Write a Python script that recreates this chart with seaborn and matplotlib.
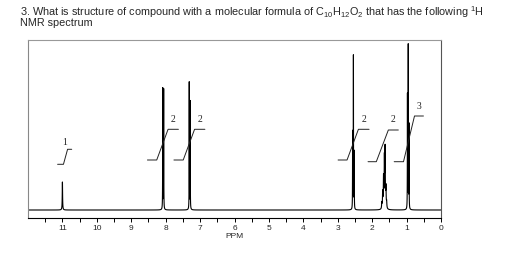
import numpy as np
import pandas as pd
import matplotlib
matplotlib.use("Agg")
import matplotlib.pyplot as plt
import seaborn as sns

# ---- data ----
# peak list: chemical shift (ppm) and intensity (arbitrary units)
peak_ppm = [11.00,
            8.085, 8.058,
            7.315, 7.288,
            2.568, 2.545, 2.522,
            1.720, 1.695, 1.670, 1.645, 1.625, 1.600, 1.580,
            0.975, 0.952, 0.929]
peak_height = [28,
               121, 120,
               127, 108,
               77, 153, 57,
               6, 16, 30, 48, 58, 20, 6,
               114, 163, 84]
peak_width = [0.006,
              0.003, 0.003,
              0.003, 0.003,
              0.003, 0.003, 0.003,
              0.007, 0.007, 0.007, 0.007, 0.007, 0.007, 0.007,
              0.003, 0.003, 0.003]

# integral traces: flat start, ramp start, ramp end, flat end (ppm), low / high level
int_start = [11.14, 8.53, 7.76, 2.99, 2.12, 1.36]
int_ramp0 = [10.97, 8.26, 7.49, 2.73, 1.88, 1.09]
int_ramp1 = [10.85, 7.93, 7.16, 2.40, 1.53, 0.77]
int_end = [10.73, 7.63, 6.86, 2.09, 1.24, 0.51]
int_low = [45.7, 50.0, 50.0, 50.0, 48.3, 48.3]
int_high = [60.7, 80.7, 80.7, 80.7, 80.0, 94.0]
int_label = ["1", "2", "2", "2", "2", "3"]
int_label_ppm = [10.95, 7.78, 6.99, 2.23, 1.40, 0.64]
int_label_y = [67.7, 90.0, 90.0, 90.0, 90.0, 103.3]

xticks_major = [11, 10, 9, 8, 7, 6, 5, 4, 3, 2, 1, 0]
xtick_labels = ["11", "10", "9", "8", "7", "6", "5", "4", "3", "2", "1", "0"]

title_line1 = "3. What is structure of compound with a molecular formula of C$_{10}$H$_{12}$O$_{2}$ that has the following $^{1}$H"
title_line2 = "NMR spectrum"

# ---- build spectrum from peak list (Lorentzian lines) ----
ppm = np.linspace(12.0, 0.0, 48001)
intensity = np.zeros_like(ppm)
for c, h, w in zip(peak_ppm, peak_height, peak_width):
    intensity += h * w**2 / ((ppm - c)**2 + w**2)
spec = pd.DataFrame({"ppm": ppm, "intensity": intensity})

sns.set_style("white")
plt.rcParams["font.family"] = ["Liberation Sans", "DejaVu Sans"]
plt.rcParams["mathtext.fontset"] = "custom"
plt.rcParams["mathtext.rm"] = "Liberation Sans"
plt.rcParams["mathtext.it"] = "Liberation Sans:italic"
plt.rcParams["mathtext.bf"] = "Liberation Sans:bold"
plt.rcParams["path.simplify"] = False

fig = plt.figure(figsize=(5.11, 2.62), dpi=100)
fig.patch.set_facecolor("white")
ax = fig.add_axes([28/511, 1-218/262, (441-28)/511, (218-40)/262])

sns.lineplot(data=spec, x="ppm", y="intensity", ax=ax, color="black",
             linewidth=0.8, sort=False, estimator=None)

for s, r0, r1, e, lo, hi, lab, lx, ly in zip(int_start, int_ramp0, int_ramp1, int_end,
                                              int_low, int_high, int_label,
                                              int_label_ppm, int_label_y):
    sns.lineplot(x=[s, r0, r1, e], y=[lo, lo, hi, hi], ax=ax, color="#222222",
                 linewidth=0.7, sort=False, estimator=None)
    ax.text(lx, ly, lab, ha="center", va="center",
            fontsize=7, family="Liberation Serif", color="#222222")

ax.set_xlim(12, 0)
ax.set_ylim(-8, 170)
ax.set_xticks(xticks_major)
ax.set_xticklabels(xtick_labels)
ax.set_xticks(np.arange(11.5, 0, -1.0), minor=True)
ax.set_yticks([])
ax.tick_params(axis="x", which="both", direction="out", length=3, width=0.7,
               color="black", labelsize=6, pad=2, bottom=True)
ax.set_xlabel("PPM", fontsize=6, labelpad=1)
ax.set_ylabel("")

for side in ["top", "left", "right", "bottom"]:
    ax.spines[side].set_visible(True)
ax.spines["top"].set_color("#999999")
ax.spines["left"].set_color("#888888")
ax.spines["right"].set_color("#555555")
ax.spines["bottom"].set_color("black")
for sp in ax.spines.values():
    sp.set_linewidth(0.8)

fig.text(20.5/511, 1-16/262, title_line1, fontsize=7.8, ha="left", va="baseline")
fig.text(20.5/511, 1-26.5/262, title_line2, fontsize=7.8, ha="left", va="baseline")

fig.savefig("out.png", dpi=100, facecolor="white")
